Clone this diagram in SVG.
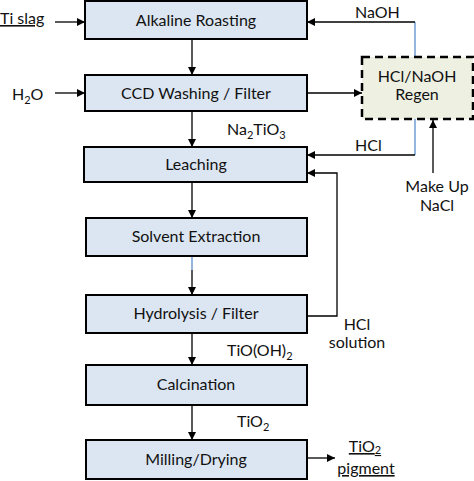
<svg xmlns="http://www.w3.org/2000/svg" width="474" height="481" viewBox="0 0 474 481">
<defs>
<marker id="ah" viewBox="0 0 10 10" refX="10" refY="5" markerWidth="9" markerHeight="8" markerUnits="userSpaceOnUse" orient="auto">
<path d="M0,0 L10,5 L0,10 Z" fill="#000"/>
</marker>
</defs>
<style>
.box{fill:#dce6f2;stroke:#000;stroke-width:2}
.regen{fill:#eef0e1;stroke:#000;stroke-width:2.5;stroke-dasharray:8 5}
.t{font-family:Lato,"Open Sans",sans-serif;font-size:16px;fill:#111}
.c{text-anchor:middle}
.ln{stroke:#000;stroke-width:1.3;fill:none}
.bl{stroke:#5b8fc9;stroke-width:1.3;fill:none}
.s{font-size:11px}
</style>
<rect width="474" height="481" fill="#fff"/>
<g id="connectors">
<line class="ln" x1="192" y1="39" x2="192" y2="75" marker-end="url(#ah)"/>
<line class="ln" x1="192" y1="111" x2="192" y2="147" marker-end="url(#ah)"/>
<line class="ln" x1="192" y1="182" x2="192" y2="218" marker-end="url(#ah)"/>
<line class="bl" x1="192" y1="256" x2="192" y2="270"/>
<line class="ln" x1="192" y1="270" x2="192" y2="295" marker-end="url(#ah)"/>
<line class="ln" x1="192" y1="333" x2="192" y2="365" marker-end="url(#ah)"/>
<line class="ln" x1="192" y1="405" x2="192" y2="440" marker-end="url(#ah)"/>
<line class="ln" x1="55" y1="22" x2="85" y2="22" marker-end="url(#ah)"/>
<line class="ln" x1="55" y1="93" x2="85" y2="93" marker-end="url(#ah)"/>
<line class="ln" x1="307" y1="93" x2="362" y2="93" marker-end="url(#ah)"/>
<line class="bl" x1="415" y1="57" x2="415" y2="22"/>
<line class="ln" x1="415" y1="22" x2="307" y2="22" marker-end="url(#ah)"/>
<line class="bl" x1="415" y1="119" x2="415" y2="155"/>
<line class="ln" x1="415" y1="155" x2="307" y2="155" marker-end="url(#ah)"/>
<line class="ln" x1="433" y1="173" x2="433" y2="120" marker-end="url(#ah)"/>
<polyline class="ln" points="308,316 337,316 337,173 307,173" marker-end="url(#ah)"/>
<line class="ln" x1="307" y1="458" x2="335" y2="458" marker-end="url(#ah)"/>
</g>
<g id="alkaline-roasting"><rect class="box" x="85" y="1" width="222" height="38"/><text class="t c" x="196" y="25.5">Alkaline Roasting</text></g>
<g id="ccd-washing"><rect class="box" x="85" y="75" width="222" height="36"/><text class="t c" x="196" y="99">CCD Washing / Filter</text></g>
<g id="leaching"><rect class="box" x="84" y="147" width="223" height="35"/><text class="t c" x="196" y="170">Leaching</text></g>
<g id="solvent-extraction"><rect class="box" x="86" y="218" width="221" height="38"/><text class="t c" x="196" y="242">Solvent Extraction</text></g>
<g id="hydrolysis"><rect class="box" x="86" y="295" width="221" height="38"/><text class="t c" x="196" y="319">Hydrolysis / Filter</text></g>
<g id="calcination"><rect class="box" x="86" y="365" width="221" height="40"/><text class="t c" x="196" y="390">Calcination</text></g>
<g id="milling"><rect class="box" x="86" y="440" width="221" height="39"/><text class="t c" x="196" y="465">Milling/Drying</text></g>
<g id="regen"><rect class="regen" x="362" y="57" width="111" height="62"/><text class="t c" x="417" y="82">HCl/NaOH</text><text class="t c" x="417" y="100">Regen</text></g>
<g id="labels">
<text class="t" x="0" y="24" text-decoration="underline">Ti slag</text>
<text class="t" x="12" y="100">H<tspan class="s" dy="4">2</tspan><tspan dy="-4">O</tspan></text>
<text class="t" x="355" y="18">NaOH</text>
<text class="t" x="355" y="151">HCl</text>
<text class="t" x="227" y="135">Na<tspan class="s" dy="4">2</tspan><tspan dy="-4">TiO</tspan><tspan class="s" dy="4">3</tspan></text>
<text class="t c" x="437" y="192">Make Up</text>
<text class="t c" x="437" y="211">NaCl</text>
<text class="t c" x="357" y="330">HCl</text>
<text class="t c" x="357" y="348">solution</text>
<text class="t" x="227" y="356">TiO(OH)<tspan class="s" dy="4">2</tspan></text>
<text class="t" x="237" y="427">TiO<tspan class="s" dy="4">2</tspan></text>
<text class="t c" x="365" y="452" text-decoration="underline">TiO<tspan class="s" dy="2">2</tspan></text>
<text class="t c" x="366" y="474" text-decoration="underline">pigment</text>
</g>
</svg>
